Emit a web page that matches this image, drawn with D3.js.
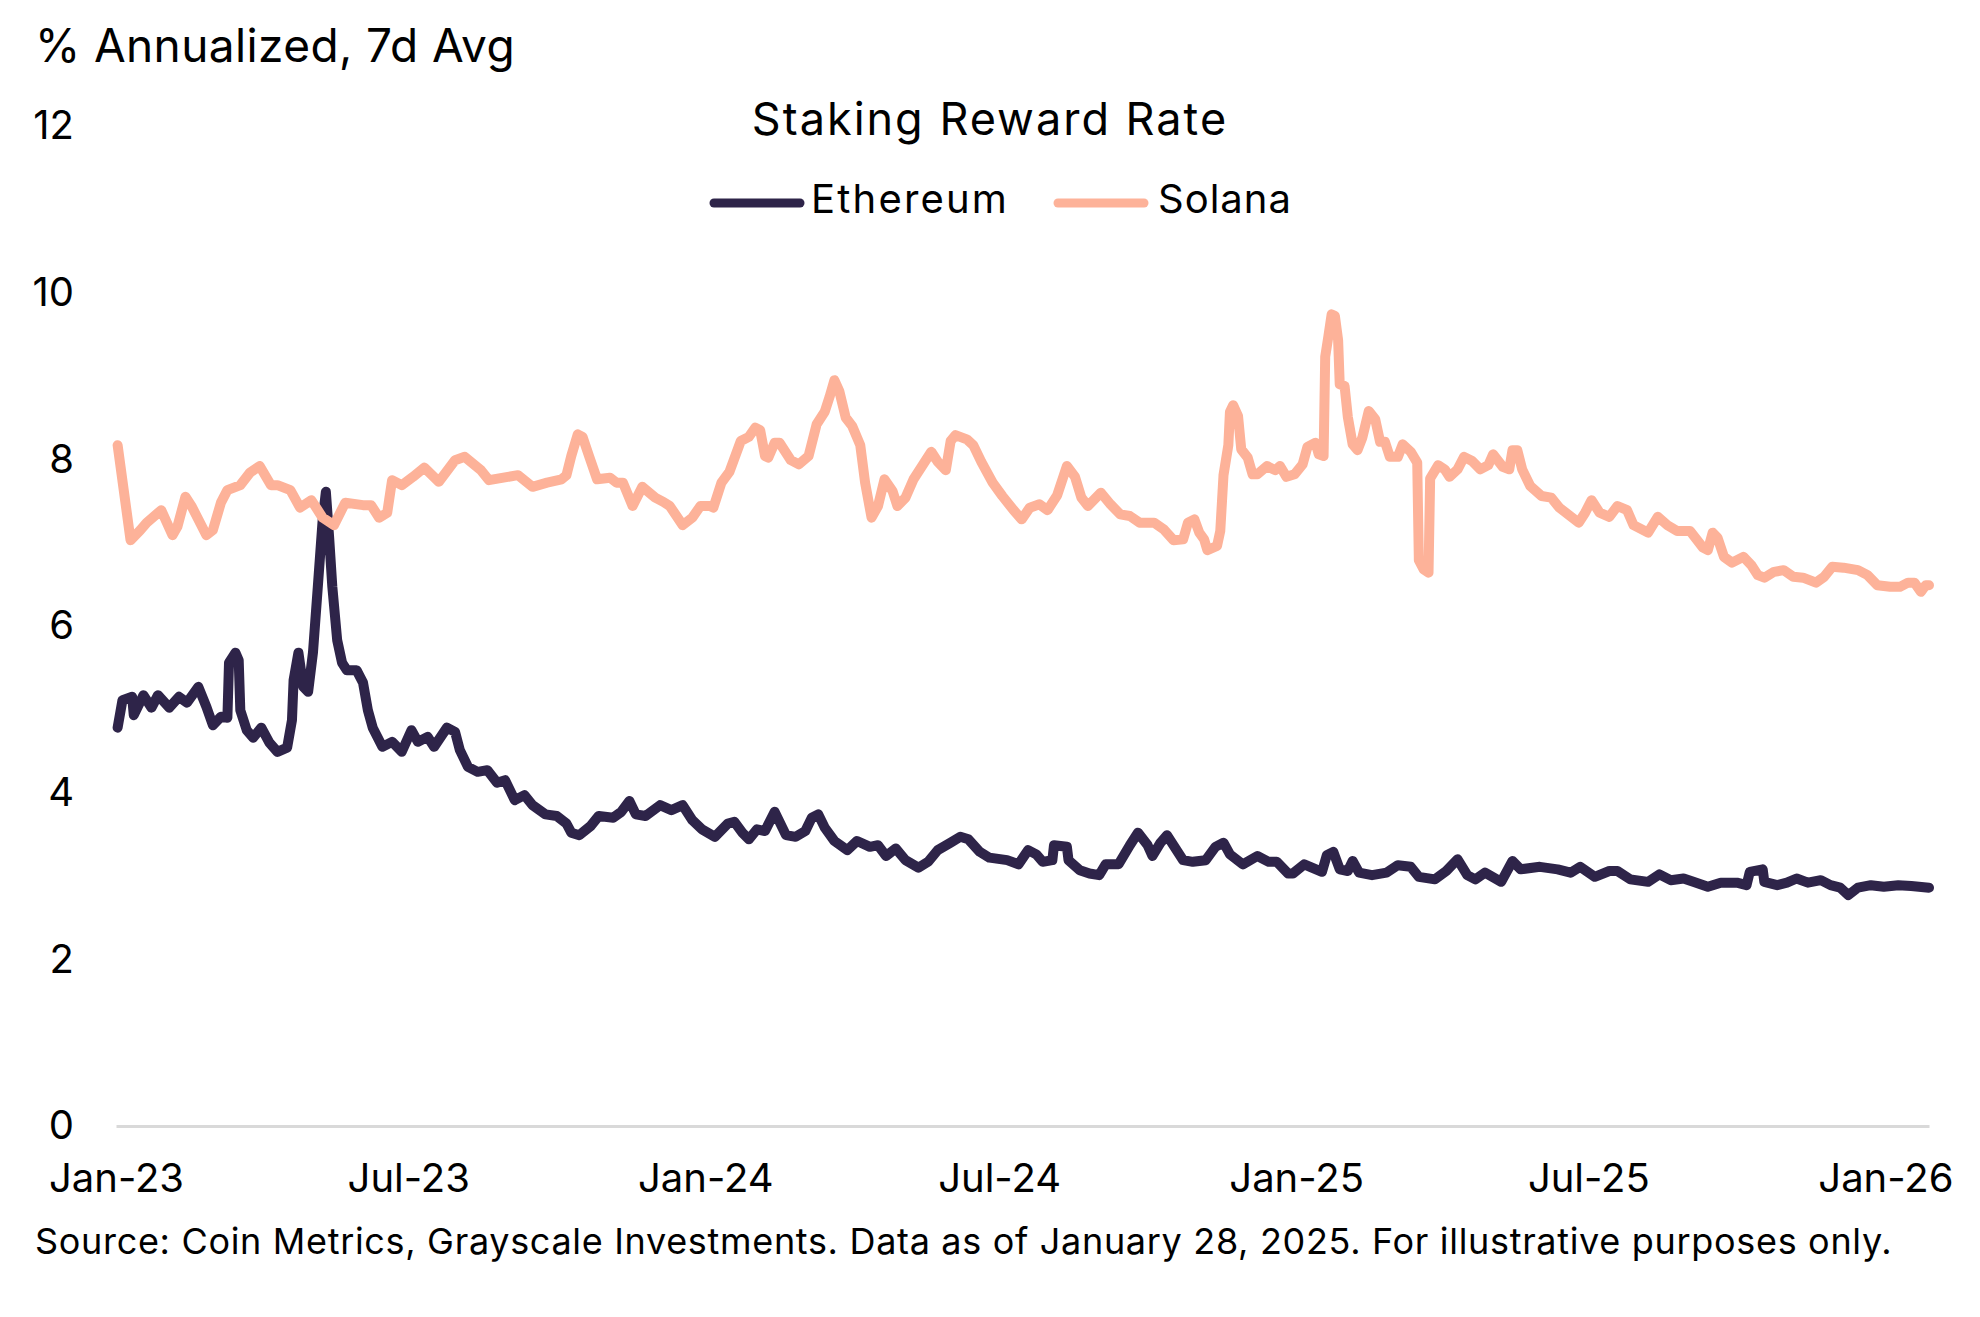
<!DOCTYPE html>
<html>
<head>
<meta charset="utf-8">
<script src="https://cdn.jsdelivr.net/npm/d3@7"></script>
<style>
  body { margin: 0; background: #fff; }
  text { font-family: Inter, "Noto Sans", sans-serif; fill: #000; }
</style>
</head>
<body>
<svg id="chart" width="1980" height="1317"></svg>
<script>
"use strict";

// Staking reward rate, % annualized, 7d average
const ethereum = [
  ["2023-01-02", 4.78], ["2023-01-05", 5.11], ["2023-01-11", 5.15], ["2023-01-12", 4.93],
  ["2023-01-18", 5.17], ["2023-01-23", 5.02], ["2023-01-27", 5.17], ["2023-02-03", 5.02],
  ["2023-02-09", 5.15], ["2023-02-14", 5.08], ["2023-02-21", 5.27], ["2023-02-26", 5.03],
  ["2023-03-02", 4.81], ["2023-03-07", 4.91], ["2023-03-11", 4.90], ["2023-03-12", 5.56],
  ["2023-03-16", 5.68], ["2023-03-18", 5.59], ["2023-03-19", 4.99], ["2023-03-23", 4.75],
  ["2023-03-27", 4.66], ["2023-04-01", 4.78], ["2023-04-06", 4.60], ["2023-04-11", 4.49],
  ["2023-04-17", 4.54], ["2023-04-20", 4.87], ["2023-04-21", 5.35], ["2023-04-24", 5.68],
  ["2023-04-27", 5.27], ["2023-04-30", 5.21], ["2023-05-03", 5.68], ["2023-05-06", 6.47],
  ["2023-05-09", 7.27], ["2023-05-11", 7.61], ["2023-05-13", 7.07], ["2023-05-15", 6.47],
  ["2023-05-18", 5.83], ["2023-05-21", 5.56], ["2023-05-24", 5.47], ["2023-05-30", 5.47],
  ["2023-06-03", 5.32], ["2023-06-06", 4.99], ["2023-06-09", 4.78], ["2023-06-15", 4.55],
  ["2023-06-21", 4.61], ["2023-06-27", 4.49], ["2023-07-03", 4.75], ["2023-07-07", 4.61],
  ["2023-07-13", 4.67], ["2023-07-17", 4.55], ["2023-07-25", 4.78], ["2023-07-30", 4.73],
  ["2023-08-02", 4.51], ["2023-08-07", 4.31], ["2023-08-13", 4.25], ["2023-08-19", 4.27],
  ["2023-08-25", 4.12], ["2023-08-30", 4.15], ["2023-09-05", 3.91], ["2023-09-11", 3.97],
  ["2023-09-16", 3.85], ["2023-09-24", 3.74], ["2023-10-01", 3.72], ["2023-10-07", 3.63],
  ["2023-10-10", 3.52], ["2023-10-15", 3.49], ["2023-10-22", 3.60], ["2023-10-27", 3.72],
  ["2023-11-05", 3.70], ["2023-11-10", 3.77], ["2023-11-15", 3.90], ["2023-11-19", 3.74],
  ["2023-11-25", 3.72], ["2023-12-04", 3.85], ["2023-12-11", 3.79], ["2023-12-18", 3.85],
  ["2023-12-24", 3.67], ["2023-12-30", 3.56], ["2024-01-07", 3.47], ["2024-01-15", 3.63],
  ["2024-01-19", 3.65], ["2024-01-24", 3.52], ["2024-01-28", 3.44], ["2024-02-02", 3.56],
  ["2024-02-07", 3.54], ["2024-02-13", 3.77], ["2024-02-20", 3.49], ["2024-02-26", 3.47],
  ["2024-03-03", 3.54], ["2024-03-07", 3.70], ["2024-03-11", 3.74], ["2024-03-15", 3.58],
  ["2024-03-21", 3.42], ["2024-03-29", 3.31], ["2024-04-04", 3.42], ["2024-04-12", 3.35],
  ["2024-04-17", 3.37], ["2024-04-22", 3.24], ["2024-04-28", 3.33], ["2024-05-04", 3.19],
  ["2024-05-12", 3.10], ["2024-05-18", 3.17], ["2024-05-24", 3.31], ["2024-06-01", 3.40],
  ["2024-06-07", 3.47], ["2024-06-12", 3.44], ["2024-06-19", 3.29], ["2024-06-25", 3.22],
  ["2024-07-06", 3.19], ["2024-07-13", 3.14], ["2024-07-19", 3.31], ["2024-07-24", 3.26],
  ["2024-07-28", 3.17], ["2024-08-03", 3.19], ["2024-08-04", 3.37], ["2024-08-12", 3.35],
  ["2024-08-13", 3.19], ["2024-08-20", 3.07], ["2024-08-26", 3.03], ["2024-09-01", 3.01],
  ["2024-09-05", 3.14], ["2024-09-13", 3.14], ["2024-09-20", 3.37], ["2024-09-25", 3.52],
  ["2024-10-01", 3.37], ["2024-10-04", 3.24], ["2024-10-09", 3.40], ["2024-10-13", 3.49],
  ["2024-10-17", 3.37], ["2024-10-23", 3.19], ["2024-10-29", 3.17], ["2024-11-06", 3.19],
  ["2024-11-12", 3.35], ["2024-11-17", 3.40], ["2024-11-21", 3.26], ["2024-11-29", 3.14],
  ["2024-12-08", 3.24], ["2024-12-15", 3.17], ["2024-12-20", 3.17], ["2024-12-27", 3.03],
  ["2024-12-30", 3.03], ["2025-01-06", 3.14], ["2025-01-17", 3.05], ["2025-01-20", 3.25],
  ["2025-01-24", 3.29], ["2025-01-28", 3.08], ["2025-02-02", 3.06], ["2025-02-05", 3.18],
  ["2025-02-09", 3.04], ["2025-02-17", 3.01], ["2025-02-26", 3.04], ["2025-03-05", 3.13],
  ["2025-03-13", 3.11], ["2025-03-18", 2.99], ["2025-03-28", 2.96], ["2025-04-04", 3.06],
  ["2025-04-11", 3.20], ["2025-04-17", 3.01], ["2025-04-22", 2.96], ["2025-04-28", 3.04],
  ["2025-05-08", 2.93], ["2025-05-15", 3.18], ["2025-05-20", 3.08], ["2025-06-01", 3.11],
  ["2025-06-12", 3.08], ["2025-06-20", 3.04], ["2025-06-26", 3.11], ["2025-07-05", 2.99],
  ["2025-07-14", 3.06], ["2025-07-19", 3.06], ["2025-07-27", 2.96], ["2025-08-07", 2.93],
  ["2025-08-14", 3.02], ["2025-08-21", 2.95], ["2025-08-29", 2.97], ["2025-09-04", 2.93],
  ["2025-09-13", 2.87], ["2025-09-21", 2.92], ["2025-10-01", 2.92], ["2025-10-07", 2.89],
  ["2025-10-09", 3.05], ["2025-10-17", 3.08], ["2025-10-18", 2.93], ["2025-10-26", 2.89],
  ["2025-11-01", 2.92], ["2025-11-07", 2.97], ["2025-11-14", 2.92], ["2025-11-22", 2.95],
  ["2025-11-28", 2.89], ["2025-12-04", 2.86], ["2025-12-09", 2.77], ["2025-12-15", 2.86],
  ["2025-12-23", 2.89], ["2025-12-31", 2.87], ["2026-01-09", 2.89], ["2026-01-17", 2.88],
  ["2026-01-28", 2.86]
];

const solana = [
  ["2023-01-02", 8.17], ["2023-01-10", 7.03], ["2023-01-16", 7.15], ["2023-01-20", 7.24],
  ["2023-01-29", 7.39], ["2023-02-05", 7.09], ["2023-02-08", 7.19], ["2023-02-13", 7.55],
  ["2023-02-17", 7.43], ["2023-02-26", 7.09], ["2023-03-02", 7.15], ["2023-03-07", 7.48],
  ["2023-03-11", 7.63], ["2023-03-19", 7.69], ["2023-03-25", 7.84], ["2023-03-31", 7.92],
  ["2023-04-07", 7.69], ["2023-04-11", 7.69], ["2023-04-19", 7.63], ["2023-04-25", 7.42],
  ["2023-05-02", 7.51], ["2023-05-09", 7.30], ["2023-05-16", 7.21], ["2023-05-23", 7.48],
  ["2023-06-03", 7.45], ["2023-06-08", 7.45], ["2023-06-13", 7.30], ["2023-06-18", 7.36],
  ["2023-06-21", 7.75], ["2023-06-27", 7.69], ["2023-07-04", 7.79], ["2023-07-11", 7.90],
  ["2023-07-20", 7.73], ["2023-07-30", 7.99], ["2023-08-05", 8.03], ["2023-08-15", 7.87],
  ["2023-08-20", 7.75], ["2023-08-29", 7.78], ["2023-09-07", 7.81], ["2023-09-16", 7.67],
  ["2023-09-25", 7.72], ["2023-10-04", 7.76], ["2023-10-07", 7.81], ["2023-10-10", 8.04],
  ["2023-10-14", 8.30], ["2023-10-17", 8.27], ["2023-10-21", 8.04], ["2023-10-26", 7.76],
  ["2023-11-03", 7.78], ["2023-11-07", 7.72], ["2023-11-11", 7.72], ["2023-11-17", 7.44],
  ["2023-11-23", 7.67], ["2023-12-01", 7.54], ["2023-12-06", 7.49], ["2023-12-10", 7.44],
  ["2023-12-18", 7.21], ["2023-12-24", 7.30], ["2023-12-29", 7.44], ["2024-01-04", 7.44],
  ["2024-01-06", 7.42], ["2024-01-11", 7.72], ["2024-01-16", 7.85], ["2024-01-23", 8.22],
  ["2024-01-28", 8.27], ["2024-02-01", 8.38], ["2024-02-04", 8.35], ["2024-02-07", 8.04],
  ["2024-02-09", 8.02], ["2024-02-13", 8.20], ["2024-02-16", 8.20], ["2024-02-23", 7.99],
  ["2024-02-28", 7.94], ["2024-03-05", 8.04], ["2024-03-10", 8.42], ["2024-03-15", 8.57],
  ["2024-03-18", 8.75], ["2024-03-21", 8.95], ["2024-03-24", 8.82], ["2024-03-28", 8.50],
  ["2024-04-01", 8.40], ["2024-04-06", 8.17], ["2024-04-09", 7.72], ["2024-04-13", 7.30],
  ["2024-04-17", 7.44], ["2024-04-21", 7.76], ["2024-04-26", 7.62], ["2024-04-29", 7.44],
  ["2024-05-04", 7.54], ["2024-05-09", 7.76], ["2024-05-15", 7.94], ["2024-05-20", 8.09],
  ["2024-05-24", 7.97], ["2024-05-29", 7.87], ["2024-06-01", 8.22], ["2024-06-04", 8.29],
  ["2024-06-11", 8.24], ["2024-06-15", 8.17], ["2024-06-20", 7.97], ["2024-06-27", 7.72],
  ["2024-07-03", 7.56], ["2024-07-10", 7.39], ["2024-07-15", 7.28], ["2024-07-20", 7.42],
  ["2024-07-26", 7.46], ["2024-07-31", 7.39], ["2024-08-06", 7.57], ["2024-08-12", 7.92],
  ["2024-08-17", 7.79], ["2024-08-21", 7.54], ["2024-08-25", 7.44], ["2024-09-02", 7.60],
  ["2024-09-08", 7.46], ["2024-09-14", 7.34], ["2024-09-20", 7.32], ["2024-09-26", 7.24],
  ["2024-10-05", 7.24], ["2024-10-11", 7.16], ["2024-10-17", 7.03], ["2024-10-23", 7.04],
  ["2024-10-26", 7.24], ["2024-10-30", 7.28], ["2024-11-02", 7.12], ["2024-11-05", 7.04],
  ["2024-11-07", 6.91], ["2024-11-13", 6.96], ["2024-11-15", 7.14], ["2024-11-17", 7.81],
  ["2024-11-20", 8.17], ["2024-11-21", 8.57], ["2024-11-23", 8.65], ["2024-11-26", 8.52],
  ["2024-11-28", 8.12], ["2024-12-02", 8.02], ["2024-12-05", 7.82], ["2024-12-08", 7.82],
  ["2024-12-14", 7.92], ["2024-12-19", 7.87], ["2024-12-22", 7.92], ["2024-12-26", 7.79],
  ["2024-12-31", 7.82], ["2025-01-05", 7.94], ["2025-01-08", 8.15], ["2025-01-13", 8.20],
  ["2025-01-15", 8.06], ["2025-01-18", 8.04], ["2025-01-19", 9.23], ["2025-01-21", 9.48],
  ["2025-01-23", 9.74], ["2025-01-25", 9.72], ["2025-01-27", 9.43], ["2025-01-28", 8.90],
  ["2025-01-31", 8.88], ["2025-02-02", 8.51], ["2025-02-05", 8.18], ["2025-02-08", 8.11],
  ["2025-02-11", 8.26], ["2025-02-15", 8.58], ["2025-02-19", 8.48], ["2025-02-22", 8.21],
  ["2025-02-25", 8.21], ["2025-02-28", 8.03], ["2025-03-05", 8.03], ["2025-03-08", 8.18],
  ["2025-03-13", 8.09], ["2025-03-17", 7.96], ["2025-03-18", 6.79], ["2025-03-21", 6.68],
  ["2025-03-24", 6.64], ["2025-03-25", 7.77], ["2025-03-30", 7.93], ["2025-04-03", 7.88],
  ["2025-04-06", 7.79], ["2025-04-11", 7.88], ["2025-04-15", 8.03], ["2025-04-20", 7.98],
  ["2025-04-25", 7.88], ["2025-04-30", 7.93], ["2025-05-03", 8.06], ["2025-05-09", 7.91],
  ["2025-05-13", 7.88], ["2025-05-15", 8.11], ["2025-05-18", 8.11], ["2025-05-21", 7.88],
  ["2025-05-26", 7.68], ["2025-06-02", 7.56], ["2025-06-08", 7.54], ["2025-06-13", 7.42],
  ["2025-06-19", 7.33], ["2025-06-25", 7.24], ["2025-06-29", 7.36], ["2025-07-03", 7.51],
  ["2025-07-08", 7.36], ["2025-07-14", 7.31], ["2025-07-19", 7.44], ["2025-07-25", 7.39],
  ["2025-07-29", 7.21], ["2025-08-07", 7.12], ["2025-08-13", 7.31], ["2025-08-19", 7.21],
  ["2025-08-25", 7.14], ["2025-09-02", 7.14], ["2025-09-10", 6.94], ["2025-09-13", 6.91],
  ["2025-09-16", 7.12], ["2025-09-19", 7.06], ["2025-09-23", 6.83], ["2025-09-28", 6.76],
  ["2025-10-05", 6.83], ["2025-10-10", 6.73], ["2025-10-14", 6.61], ["2025-10-18", 6.58],
  ["2025-10-24", 6.65], ["2025-10-30", 6.67], ["2025-11-05", 6.59], ["2025-11-11", 6.58],
  ["2025-11-19", 6.52], ["2025-11-24", 6.59], ["2025-11-29", 6.71], ["2025-12-06", 6.70],
  ["2025-12-15", 6.67], ["2025-12-21", 6.61], ["2025-12-27", 6.49], ["2026-01-04", 6.47],
  ["2026-01-10", 6.47], ["2026-01-15", 6.52], ["2026-01-19", 6.52], ["2026-01-23", 6.41],
  ["2026-01-26", 6.49], ["2026-01-28", 6.49]
];

const seriesNames = ["Ethereum", "Solana"];
const seriesColors = ["#2e2449", "#fdb299"];
const yTicks = [0, 2, 4, 6, 8, 10, 12];
const xTicks = ["2023-01-01", "2023-07-01", "2024-01-01", "2024-07-01", "2025-01-01", "2025-07-01", "2026-01-01"];
const xDomain = ["2023-01-01", "2026-01-28"];

const parseDate = d3.timeParse("%Y-%m-%d");
const svg = d3.select("#chart");

const x = d3.scaleTime()
  .domain(xDomain.map(parseDate))
  .range([116, 1929]);

const y = d3.scaleLinear()
  .domain([0, 12])
  .range([1126, 126]);

/**
 * Axes : l'axe des X n'a que la ligne grise, l'axe des Y que les libellés.
 */
function drawAxes() {
  const xAxis = d3.axisBottom(x)
    .tickValues(xTicks.map(parseDate))
    .tickFormat(d3.timeFormat("%b-%y"))
    .tickSize(0)
    .tickSizeOuter(0)
    .tickPadding(38);

  const gx = svg.append("g")
    .attr("transform", "translate(0," + y(0) + ")")
    .call(xAxis);
  gx.select(".domain").attr("stroke", "#d9d9d9").attr("stroke-width", 3);
  gx.selectAll("text")
    .style("font-family", "Inter")
    .style("font-size", "40px")
    .attr("fill", "#000");

  const yAxis = d3.axisLeft(y)
    .tickValues(yTicks)
    .tickSize(0)
    .tickPadding(116 - 74);

  const gy = svg.append("g")
    .attr("transform", "translate(" + x.range()[0] + ",0)")
    .call(yAxis);
  gy.select(".domain").remove();
  gy.selectAll("text")
    .style("font-family", "Inter")
    .style("font-size", "40px")
    .attr("fill", "#000");
}

/**
 * Trace les deux séries.
 */
function drawLines() {
  const line = d3.line()
    .x(d => x(parseDate(d[0])))
    .y(d => y(d[1]));

  [ethereum, solana].forEach((serie, i) => {
    svg.append("path")
      .datum(serie)
      .attr("d", line)
      .attr("fill", "none")
      .attr("stroke", seriesColors[i])
      .attr("stroke-width", 10)
      .attr("stroke-linejoin", "round")
      .attr("stroke-linecap", "round");
  });
}

function drawTexts() {
  svg.append("text")
    .attr("x", 35).attr("y", 62)
    .style("font-size", "46px")
    .style("letter-spacing", "0.4px")
    .text("% Annualized, 7d Avg");

  svg.append("text")
    .attr("x", 990).attr("y", 135)
    .attr("text-anchor", "middle")
    .style("font-size", "45px")
    .style("letter-spacing", "2px")
    .text("Staking Reward Rate");

  // légende
  const legendX = [710, 1054];
  seriesNames.forEach((name, i) => {
    const g = svg.append("g").attr("transform", "translate(" + legendX[i] + ",203)");
    g.append("line")
      .attr("x1", 4).attr("x2", 90)
      .attr("stroke", seriesColors[i])
      .attr("stroke-width", 9)
      .attr("stroke-linecap", "round");
    g.append("text")
      .attr("x", i === 0 ? 101 : 104).attr("y", 10)
      .style("font-size", "40px")
      .style("letter-spacing", i === 0 ? "2.2px" : "1px")
      .text(name);
  });

  svg.append("text")
    .attr("x", 35).attr("y", 1254)
    .style("font-size", "36px")
    .style("letter-spacing", "0.68px")
    .text("Source: Coin Metrics, Grayscale Investments. Data as of January 28, 2025. For illustrative purposes only.");
}

drawAxes();
drawLines();
drawTexts();
</script>
</body>
</html>
